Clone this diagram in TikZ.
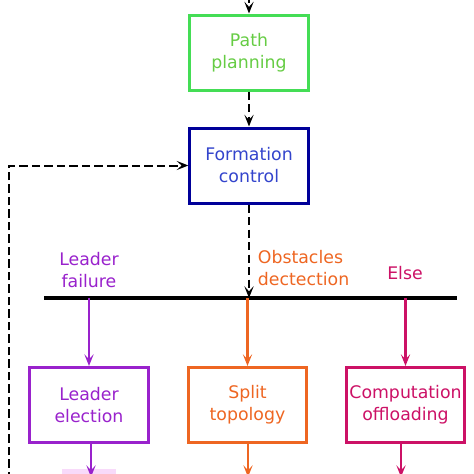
\documentclass[tikz,border=0pt]{standalone}
\usepackage{fontspec}
\setmainfont{DejaVu Sans}
\usepackage{xcolor}
\usepackage{tikz}
\usetikzlibrary{arrows,arrows.meta,calc,positioning}
\definecolor{ppgreen}{HTML}{44DD55}
\definecolor{pptext}{HTML}{66CC44}
\definecolor{fcblue}{HTML}{000099}
\definecolor{fctext}{HTML}{3344CC}
\definecolor{lepurple}{HTML}{9922CC}
\definecolor{storange}{HTML}{EE6622}
\definecolor{cocrimson}{HTML}{CC1166}
\definecolor{nextpink}{HTML}{F8DAFA}

\begin{document}
\begin{tikzpicture}[x=0.6pt, y=-0.6pt]
	\tikzstyle{every node} = [font=\fontsize{10.4}{13.2}\selectfont, align=center]
	\tikzstyle{box} = [rectangle, draw, line width=1.8pt, minimum width=71pt, minimum height=45pt, inner sep=0pt]
	\tikzstyle{flow} = [line width=1.2pt, dash pattern=on 5pt off 2.5pt, -{Stealth[length=7pt,width=5.5pt,inset=3pt]}]
	\tikzstyle{branch} = [line width=1.3pt, -{Stealth[length=7pt,width=5.5pt,inset=3pt]}]
	\useasboundingbox (0,0) rectangle (474,474);
\node[box, draw = ppgreen, text = pptext] (path) at (249, 52.5) {Path\\planning};
\node[box, draw = fcblue, text = fctext] (form) at (249, 165.5) {Formation\\control};
\node[box, draw = lepurple, text = lepurple] (elect) at (89, 405) {Leader\\election};
\node[box, draw = storange, text = storange] (split) at (247.5, 405) {Split\\topology};
\node[box, draw = cocrimson, text = cocrimson] (offl) at (405.5, 405) {Computation\\offloading};
\node[text = lepurple] (lfail) at (89, 270) {Leader\\failure};
\node[text = storange, anchor = west, align = left] (obst) at (252, 268.5) {Obstacles\\dectection};
\node[text = cocrimson] (else) at (405, 273) {Else};
	\coordinate (in) at (249, -5);
	\coordinate (barL) at (44, 298);
	\coordinate (barR) at (457, 298);
	\coordinate (fb) at (9, 480);
	\coordinate (outL) at (91, 477);
	\coordinate (outM) at (248, 477);
	\coordinate (outR) at (401, 477);
	% next stage, only its top edge is seen
	\fill[nextpink] (62, 469) rectangle (116, 485);
	\path[draw, line width=2pt] (barL) -- (barR);
	\path[draw, flow] (in) -- (path);
	\path[draw, flow] (path) -- (form);
	\path[draw, flow] (form.south) -- (form.south |- barL);
	\path[draw, flow] (fb) |- (form.west);
	\path[draw, branch, lepurple] (elect.north |- barL) -- (elect);
	\path[draw, branch, storange] (split.north |- barL) -- (split);
	\path[draw, branch, cocrimson] (offl.north |- barL) -- (offl);
	\path[draw, branch, lepurple] (elect.south -| outL) -- (outL);
	\path[draw, branch, storange] (split.south -| outM) -- (outM);
	\path[draw, branch, cocrimson] (offl.south -| outR) -- (outR);
\end{tikzpicture}
\end{document}
